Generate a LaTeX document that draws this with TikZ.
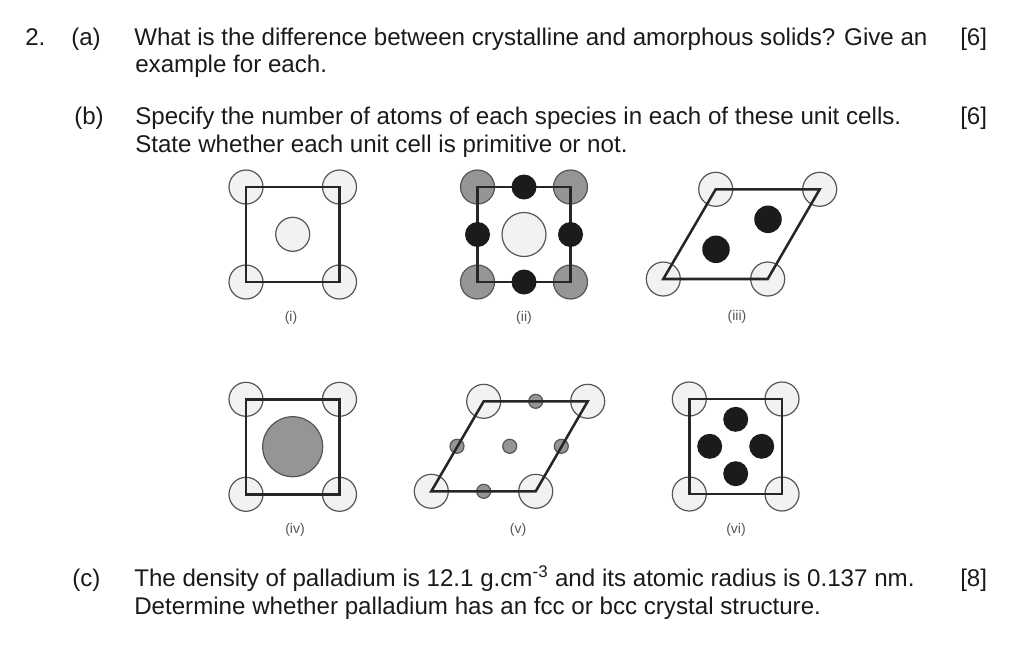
\documentclass[tikz,border=0pt]{standalone}
\usepackage{fontspec}
\setmainfont{Liberation Sans}
\definecolor{atomlight}{HTML}{F2F2F0}
\definecolor{atomgrey}{HTML}{979593}
\definecolor{atomblack}{HTML}{1B1B1D}
\definecolor{atomedge}{HTML}{555555}
\definecolor{inktext}{HTML}{1A1A1A}
\tikzset{
	txt/.style={anchor=base west,inner sep=0pt,yshift=0.75pt,text=inktext,font=\fontsize{18.1}{22}\selectfont},
	sublabel/.style={inner sep=0pt,text=atomedge,font=\fontsize{10.5}{12}\selectfont},
	atom/.style={circle,inner sep=0pt,minimum size=#1*0.75pt,draw=atomedge,line width=0.9pt},
	latom/.style={atom=#1,fill=atomlight},
	gatom/.style={atom=#1,fill=atomgrey},
	batom/.style={circle,inner sep=0pt,minimum size=#1*0.75pt,fill=atomblack},
	cellframe/.style={draw=black!85,line width=1.9pt,line join=miter},
}

\begin{document}
\begin{tikzpicture}[x=0.75pt,y=-0.75pt]
	\useasboundingbox (0,0) rectangle (1024,657);
	% question text
	\node[txt] (qnum) at (25,46) {2.};
	\node[txt] (qa) at (71,46) {(a)};
	\node[txt] (qa1) at (134,46) {What is the difference between crystalline and amorphous solids? Give an};
	\node[txt] (qa2) at (135,73) {example for each.};
	\node[txt] (ma) at (960,46) {[6]};
	\node[txt] (qb) at (74,125) {(b)};
	\node[txt] (qb1) at (135,125) {Specify the number of atoms of each species in each of these unit cells.};
	\node[txt] (qb2) at (135,153) {State whether each unit cell is primitive or not.};
	\node[txt] (mb) at (960,125) {[6]};
	\node[txt] (qc) at (72,587) {(c)};
	\node[txt] (qc1) at (134,587) {The density of palladium is 12.1 g.cm\textsuperscript{-3} and its atomic radius is 0.137 nm.};
	\node[txt] (qc2) at (134,615) {Determine whether palladium has an fcc or bcc crystal structure.};
	\node[txt] (mc) at (960,587) {[8]};
	% cell i
	\node[latom=34] (a1) at (246,187) {};
	\node[latom=34] (a2) at (339.5,187) {};
	\node[latom=34] (a3) at (339.5,282) {};
	\node[latom=34] (a4) at (246,282) {};
	\node[latom=34] (a5) at (292.7,234.3) {};
	\draw[cellframe] (a1.center) -- (a2.center) -- (a3.center) -- (a4.center) -- cycle;
	\node[sublabel] (lab1) at (291,318) {(i)};
	% cell ii
	\node[gatom=34] (b1) at (477.5,187) {};
	\node[gatom=34] (b2) at (570.5,187) {};
	\node[gatom=34] (b3) at (570.5,282) {};
	\node[gatom=34] (b4) at (477.5,282) {};
	\draw[cellframe] (b1.center) -- (b2.center) -- (b3.center) -- (b4.center) -- cycle;
	\node[latom=44] (b5) at (524,234.5) {};
	\node[batom=25] (b6) at (524,187) {};
	\node[batom=25] (b7) at (570.5,234.5) {};
	\node[batom=25] (b8) at (524,282) {};
	\node[batom=25] (b9) at (477.5,234.5) {};
	\node[sublabel] (lab2) at (524,318) {(ii)};
	% cell iii
	\node[latom=34] (c1) at (715.7,189.3) {};
	\node[latom=34] (c2) at (819.7,189.3) {};
	\node[latom=34] (c3) at (767.7,279) {};
	\node[latom=34] (c4) at (663.3,279) {};
	\draw[cellframe] (c1.center) -- (c2.center) -- (c3.center) -- (c4.center) -- cycle;
	\node[batom=27.5] (c5) at (768,219.3) {};
	\node[batom=27.5] (c6) at (716,249.3) {};
	\node[sublabel] (lab3) at (737,317) {(iii)};
	% cell iv
	\node[latom=34] (d1) at (246,399.3) {};
	\node[latom=34] (d2) at (339.5,399.3) {};
	\node[latom=34] (d3) at (339.5,494.3) {};
	\node[latom=34] (d4) at (246,494.3) {};
	\node[gatom=60] (d5) at (292.7,446.7) {};
	\draw[cellframe] (d1.center) -- (d2.center) -- (d3.center) -- (d4.center) -- cycle;
	\node[sublabel] (lab4) at (295,530) {(iv)};
	% cell v
	\node[latom=34] (e1) at (483.7,401.3) {};
	\node[latom=34] (e2) at (587.7,401.3) {};
	\node[latom=34] (e3) at (535.7,491.3) {};
	\node[latom=34] (e4) at (431.3,491.3) {};
	\node[gatom=14] (e5) at (509.7,446.3) {};
	\node[gatom=14] (e6) at (535.7,401.3) {};
	\node[gatom=14] (e7) at (561.3,446.3) {};
	\node[gatom=14] (e8) at (483.7,491.3) {};
	\node[gatom=14] (e9) at (457,446.3) {};
	\draw[cellframe] (e1.center) -- (e2.center) -- (e3.center) -- (e4.center) -- cycle;
	\node[sublabel] (lab5) at (518,530) {(v)};
	% cell vi
	\node[latom=34] (f1) at (689.3,399) {};
	\node[latom=34] (f2) at (782,399) {};
	\node[latom=34] (f3) at (782,494) {};
	\node[latom=34] (f4) at (689.3,494) {};
	\draw[cellframe] (f1.center) -- (f2.center) -- (f3.center) -- (f4.center) -- cycle;
	\node[batom=25] (f5) at (735.7,419.3) {};
	\node[batom=25] (f6) at (761.7,446.3) {};
	\node[batom=25] (f7) at (735.7,473.7) {};
	\node[batom=25] (f8) at (709.7,446.3) {};
	\node[sublabel] (lab6) at (736,530) {(vi)};
\end{tikzpicture}
\end{document}
